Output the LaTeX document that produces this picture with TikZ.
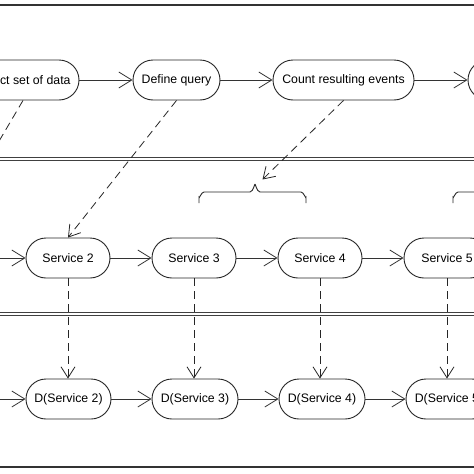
\documentclass[tikz,border=0pt]{standalone}
\usepackage{fontspec}
\setmainfont{Liberation Sans}
\usetikzlibrary{arrows.meta}
\begin{document}
\begin{tikzpicture}[x=1pt,y=-1pt,
  act/.style={draw=black!85, line width=0.9pt, rectangle, rounded corners=20pt,
    minimum height=40pt, inner sep=0pt, font=\fontsize{12.3}{14}\selectfont},
  flow/.style={draw=black!80, line width=0.8pt, -{Straight Barb[length=13pt,width=16pt,line width=0.8pt]}},
  dep/.style={draw=black!85, line width=0.8pt, dash pattern=on 8pt off 5pt,
    -{Straight Barb[length=11pt,width=14pt,line width=0.8pt]}},
  frame/.style={draw=black!80, line width=1.3pt},
  thinframe/.style={draw=black!75, line width=0.9pt},
  bracest/.style={draw=black!85, line width=0.9pt}
]
\fill[white] (0,0) rectangle (474,474);
\useasboundingbox (0,0) rectangle (474,474);
\clip (0,0) rectangle (474,474);

% frame lines
\draw[frame] (-10,5) -- (490,5);
\draw[thinframe] (-10,157.6) -- (490,157.6);
\draw[thinframe] (-10,160.4) -- (490,160.4);
\draw[thinframe] (-10,312.4) -- (490,312.4);
\draw[thinframe] (-10,315.2) -- (490,315.2);
\draw[frame] (-10,467) -- (490,467);

% row 1
\node[act, minimum width=112pt] (sel) at (23,80) {Select set of data};
\node[act, minimum width=87pt] (dq) at (176.5,80) {Define query};
\node[act, minimum width=141pt] (cre) at (343.5,80) {Count resulting events};
\node[act, minimum width=100pt] (nx) at (518,80) {};

% row 2
\coordinate (s1) at (-16,258);
\coordinate (s1top) at (-58,238);
\node[act, minimum width=84pt] (s2) at (68,258) {Service 2};
\node[act, minimum width=84pt] (s3) at (194,258) {Service 3};
\node[act, minimum width=84pt] (s4) at (320,258) {Service 4};
\node[act, minimum width=86pt] (s5) at (447,258) {Service 5};

% row 3
\coordinate (d1) at (-16,399);
\node[act, minimum width=85pt] (d2) at (68.5,399) {D(Service 2)};
\node[act, minimum width=86pt] (d3) at (195,399) {D(Service 3)};
\node[act, minimum width=86pt] (d4) at (322,399) {D(Service 4)};
\node[act, minimum width=86pt] (d5) at (449,399) {D(Service 5)};

% flows
\draw[flow] (sel) -- (dq);
\draw[flow] (dq) -- (cre);
\draw[flow] (cre) -- (nx);
\draw[flow] (s1) -- (s2);
\draw[flow] (s2) -- (s3);
\draw[flow] (s3) -- (s4);
\draw[flow] (s4) -- (s5);
\draw[flow] (d1) -- (d2);
\draw[flow] (d2) -- (d3);
\draw[flow] (d3) -- (d4);
\draw[flow] (d4) -- (d5);

% braces
\coordinate (b1) at (255,185);
\draw[bracest] (199,203) -- (199,197) to[out=-90,in=180] (204,192) -- (250,192)
  to[out=0,in=90] (b1) to[out=90,in=180] (260,192) -- (301,192)
  to[out=0,in=-90] (306,197) -- (306,203);
\draw[bracest] (453,203) -- (453,197) to[out=-90,in=180] (458,192) -- (504,192);
\coordinate (b1tip) at (262.5,179.5);

% dependencies
\draw[dep] (sel.south) -- (s1top);
\draw[dep] (dq.south) -- (s2.north);
\draw[dep] (cre.south) -- (b1tip);
\draw[dep] (s2.south) -- (s2.south |- d2.north);
\draw[dep] (s3.south) -- (s3.south |- d3.north);
\draw[dep] (s4.south) -- (s4.south |- d4.north);
\draw[dep] (s5.south) -- (s5.south |- d5.north);
\end{tikzpicture}
\end{document}
